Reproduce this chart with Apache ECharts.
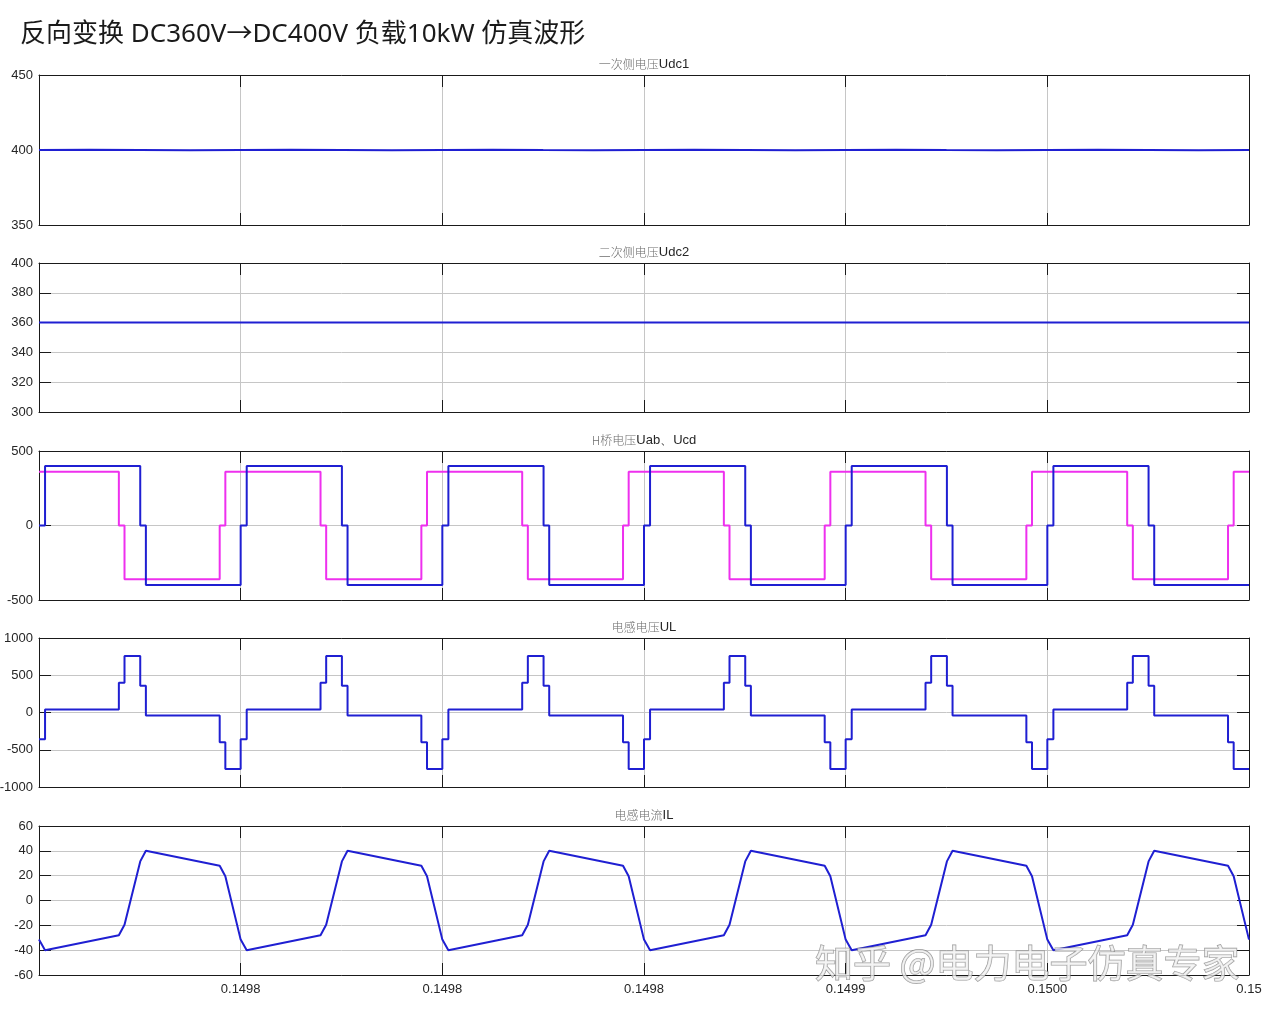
<!DOCTYPE html>
<html>
<head>
<meta charset="utf-8">
<script src="https://cdn.jsdelivr.net/npm/echarts@6/dist/echarts.min.js"></script>
<style>
html,body{margin:0;padding:0;background:#fff;}
#chart{width:1271px;height:1015px;}
</style>
</head>
<body>
<div id="chart"></div>
<script>
// ---- DATA (time in microseconds after t = 0.14970 s) ----
const xTickLabels = ['', '0.1498', '0.1498', '0.1498', '0.1499', '0.1500', '0.15'];
const panelTitlesCn = ['一次侧电压', '二次侧电压', 'H桥电压', '电感电压', '电感电流'];
const panelTitlesEn = ['Udc1', 'Udc2', 'Uab、Ucd', 'UL', 'IL'];
const mainTitle = '反向变换 DC360V→DC400V 负载10kW 仿真波形';
const watermark = '知乎 @电力电子仿真专家';

// Udc1 (V): ~400 with a very small ripple
const udc1T = [0, 12.5, 25, 37.5, 50, 62.5, 75, 87.5, 100, 112.5, 125, 137.5, 150, 162.5, 175, 187.5, 200, 212.5, 225, 237.5, 250, 262.5, 275, 287.5, 300];
const udc1V = [400.0, 400.15, 399.95, 399.85, 400.0, 400.15, 400.0, 399.85, 400.0, 400.15, 399.95, 399.85, 400.0, 400.15, 400.0, 399.85, 400.0, 400.15, 399.95, 399.85, 400.0, 400.15, 400.0, 399.85, 400.0];

// Udc2 (V)
const udc2T = [0, 300];
const udc2V = [360, 360];

// Uab (V), step: each value holds from its time until the next time
const uabT = [0, 1.5, 25.1, 26.5, 50, 51.5, 75.1, 76.5, 100, 101.5, 125.1, 126.5, 150, 151.5, 175.1, 176.5, 200, 201.5, 225.1, 226.5, 250, 251.5, 275.1, 276.5, 300];
const uabV = [0, 400, 0, -400, 0, 400, 0, -400, 0, 400, 0, -400, 0, 400, 0, -400, 0, 400, 0, -400, 0, 400, 0, -400, -400];

// Ucd (V), step
const ucdT = [0, 19.8, 21.2, 44.8, 46.2, 69.8, 71.2, 94.8, 96.2, 119.8, 121.2, 144.8, 146.2, 169.8, 171.2, 194.8, 196.2, 219.8, 221.2, 244.8, 246.2, 269.8, 271.2, 294.8, 296.2, 300];
const ucdV = [360, 0, -360, 0, 360, 0, -360, 0, 360, 0, -360, 0, 360, 0, -360, 0, 360, 0, -360, 0, 360, 0, -360, 0, 360, 360];

// UL (V), step
const ulT = [0, 1.5, 19.8, 21.2, 25.1, 26.5, 44.8, 46.2,
             50, 51.5, 69.8, 71.2, 75.1, 76.5, 94.8, 96.2,
             100, 101.5, 119.8, 121.2, 125.1, 126.5, 144.8, 146.2,
             150, 151.5, 169.8, 171.2, 175.1, 176.5, 194.8, 196.2,
             200, 201.5, 219.8, 221.2, 225.1, 226.5, 244.8, 246.2,
             250, 251.5, 269.8, 271.2, 275.1, 276.5, 294.8, 296.2, 300];
const ulV = [-360, 40, 400, 760, 360, -40, -400, -760,
             -360, 40, 400, 760, 360, -40, -400, -760,
             -360, 40, 400, 760, 360, -40, -400, -760,
             -360, 40, 400, 760, 360, -40, -400, -760,
             -360, 40, 400, 760, 360, -40, -400, -760,
             -360, 40, 400, 760, 360, -40, -400, -760, -760];

// IL (A), piecewise linear
const ilT = [0, 1.5, 19.8, 21.2, 25.1, 26.5, 44.8, 46.2,
             50, 51.5, 69.8, 71.2, 75.1, 76.5, 94.8, 96.2,
             100, 101.5, 119.8, 121.2, 125.1, 126.5, 144.8, 146.2,
             150, 151.5, 169.8, 171.2, 175.1, 176.5, 194.8, 196.2,
             200, 201.5, 219.8, 221.2, 225.1, 226.5, 244.8, 246.2,
             250, 251.5, 269.8, 271.2, 275.1, 276.5, 294.8, 296.2, 300];
const ilV = [-31.5, -40, -28, -19.5, 31.5, 40, 28, 19.5,
             -31.5, -40, -28, -19.5, 31.5, 40, 28, 19.5,
             -31.5, -40, -28, -19.5, 31.5, 40, 28, 19.5,
             -31.5, -40, -28, -19.5, 31.5, 40, 28, 19.5,
             -31.5, -40, -28, -19.5, 31.5, 40, 28, 19.5,
             -31.5, -40, -28, -19.5, 31.5, 40, 28, 19.5, -31.5];

const yMin = [350, 300, -500, -1000, -60];
const yMax = [450, 400, 500, 1000, 60];
const yInterval = [50, 20, 500, 500, 20];

// ---- CHART ----
const zip = (t, v) => t.map((x, i) => [x, v[i]]);
const chart = echarts.init(document.getElementById('chart'), null, {renderer: 'canvas'});

const gridTops = [75, 263, 451, 638, 826];
const gridH = [150, 149, 149, 149, 149];
const PLOT_L = 39, PLOT_R = 1249;
const BLACK = '#1a1a1a', GRIDC = '#c6c6c6', BLUE = '#1f1fd2', MAG = '#ee30ee';
const labelFont = {color: '#262626', fontSize: 13, fontFamily: 'Liberation Sans, Arial, sans-serif'};

const grids = [], xAxes = [], yAxes = [];
for (let i = 0; i < 5; i++) {
  grids.push({left: PLOT_L, right: 1271 - PLOT_R, top: gridTops[i], height: gridH[i],
    containLabel: false, outerBoundsMode: 'none'});
  xAxes.push({
    type: 'value', gridIndex: i, min: 0, max: 300, interval: 50, position: 'bottom',
    axisLine: {show: true, onZero: false, lineStyle: {color: BLACK, width: 1}},
    axisTick: {show: true, inside: true, length: 12, lineStyle: {color: BLACK}},
    splitLine: {show: true, lineStyle: {color: GRIDC, width: 1}},
    axisLabel: {show: i === 4, margin: 8, ...labelFont,
      formatter: v => xTickLabels[Math.round(v / 50)] || '', showMinLabel: true, showMaxLabel: true}
  });
  xAxes.push({
    type: 'value', gridIndex: i, min: 0, max: 300, interval: 50, position: 'top',
    axisLine: {show: true, onZero: false, lineStyle: {color: BLACK, width: 1}},
    axisTick: {show: true, inside: true, length: 12, lineStyle: {color: BLACK}},
    splitLine: {show: false}, axisLabel: {show: false}
  });
  yAxes.push({
    type: 'value', gridIndex: i, min: yMin[i], max: yMax[i], interval: yInterval[i], position: 'left',
    axisLine: {show: true, onZero: false, lineStyle: {color: BLACK, width: 1}},
    axisTick: {show: true, inside: true, length: 12, lineStyle: {color: BLACK}},
    splitLine: {show: true, lineStyle: {color: GRIDC, width: 1}},
    axisLabel: {show: true, margin: 6, ...labelFont, formatter: v => String(v)}
  });
  yAxes.push({
    type: 'value', gridIndex: i, min: yMin[i], max: yMax[i], interval: yInterval[i], position: 'right',
    axisLine: {show: true, onZero: false, lineStyle: {color: BLACK, width: 1}},
    axisTick: {show: true, inside: true, length: 12, lineStyle: {color: BLACK}},
    splitLine: {show: false}, axisLabel: {show: false}
  });
}

function line(i, data, color, step) {
  return {
    type: 'line', xAxisIndex: 2 * i, yAxisIndex: 2 * i, data: data,
    step: step ? 'end' : false, showSymbol: false, symbol: 'none', silent: true,
    lineStyle: {color: color, width: 2}, clip: true, z: 3
  };
}

const series = [
  line(0, zip(udc1T, udc1V), BLUE, false),
  line(1, zip(udc2T, udc2V), BLUE, false),
  line(2, zip(ucdT, ucdV), MAG, true),
  line(2, zip(uabT, uabV), BLUE, true),
  line(3, zip(ulT, ulV), BLUE, true),
  line(4, zip(ilT, ilV), BLUE, false)
];

const graphics = [{
  type: 'text', left: 20, top: 22,
  style: {text: mainTitle, fill: '#1a1a1a', fontSize: 26, fontFamily: '"Noto Sans", "Noto Sans CJK SC", sans-serif'}
}];
for (let i = 0; i < 5; i++) {
  graphics.push({
    type: 'text', x: (PLOT_L + PLOT_R) / 2, y: gridTops[i] - 11,
    style: {
      text: '{cn|' + panelTitlesCn[i] + '}{en|' + panelTitlesEn[i] + '}',
      textAlign: 'center', textVerticalAlign: 'middle',
      rich: {
        cn: {fill: '#6e6e6e', color: '#6e6e6e', fontSize: 12, fontFamily: 'Noto Sans CJK SC, sans-serif', fontWeight: 300},
        en: {fill: '#262626', color: '#262626', fontSize: 13, fontFamily: 'Liberation Sans, Arial, sans-serif'}
      }
    }
  });
}
graphics.push({
  type: 'text', x: 815, y: 963, z: 100,
  style: {text: watermark, textVerticalAlign: 'middle', fontSize: 38,
    fontFamily: 'Noto Sans CJK SC, sans-serif',
    fill: 'rgba(240,240,240,0.75)', stroke: 'rgba(110,110,110,0.7)', lineWidth: 1.2}
});

chart.setOption({
  animation: false,
  backgroundColor: '#ffffff',
  grid: grids,
  xAxis: xAxes,
  yAxis: yAxes,
  series: series,
  graphic: graphics
});
</script>
</body>
</html>
